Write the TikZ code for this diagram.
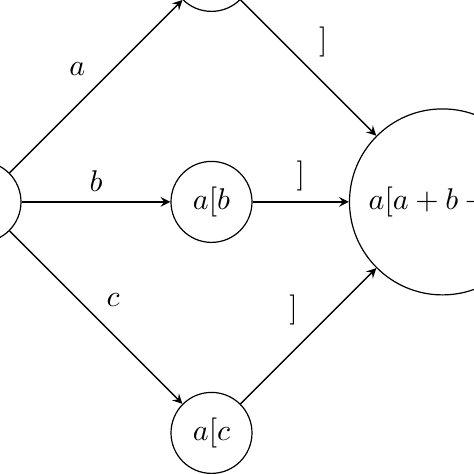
\documentclass[tikz,border=0pt]{standalone}
\usetikzlibrary{arrows}
\begin{document}
\begin{tikzpicture}[>=stealth,
  st/.style={draw,circle,minimum size=27pt,inner sep=1pt},
  bigst/.style={draw,circle,minimum size=62pt,inner sep=1pt},
  arr/.style={->,line width=0.45pt}]
\useasboundingbox (-70.5pt,-90.7pt) rectangle (87.5pt,67.3pt);
\node[st] (s) at (-77pt,0pt) {};
\node[st] (t) at (0pt,77pt) {};
\node[st] (m) at (0pt,0pt) {$a[b$};
\node[st] (u) at (0pt,-77pt) {$a[c$};
\node[bigst] (f) at (77pt,0pt) {$a[a+b+c]$};
\draw[arr] (s) -- node[above left] {$a$} (t);
\draw[arr] (s) -- node[above] {$b$} (m);
\draw[arr] (s) -- node[above right] {$c$} (u);
\draw[arr] (t) -- node[above right] {$]$} (f);
\draw[arr] (m) -- node[above] {$]$} (f);
\draw[arr] (u) -- node[above left] {$]$} (f);
\end{tikzpicture}
\end{document}
